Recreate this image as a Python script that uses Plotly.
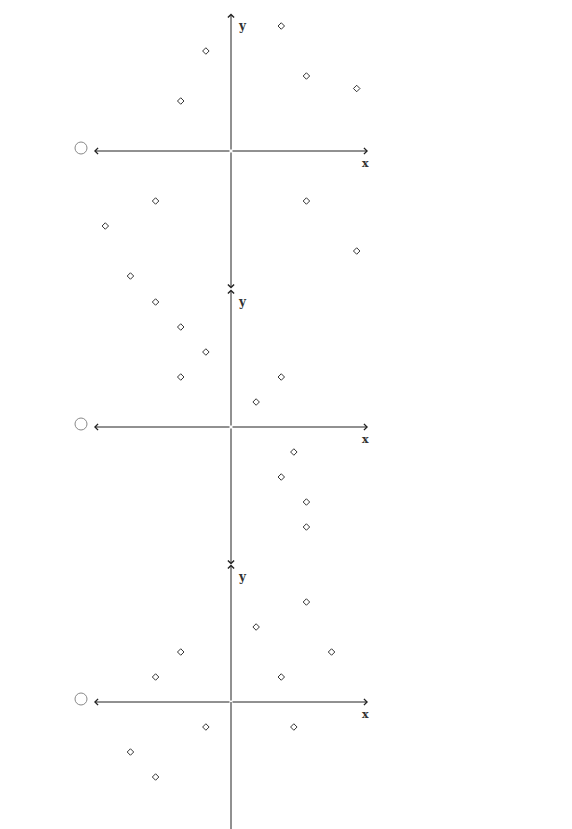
import plotly.graph_objects as go

W, H = 572, 829

# three answer choices, each a scatter of points
x1 = [2, -1, 3, 5, -2, -3, 3, -5, 5, -4]
y1 = [5, 4, 3, 2.5, 2, -2, -2, -3, -4, -5]
x2 = [-3, -2, -1, -2, 2, 1, 2.5, 2, 3, 3]
y2 = [5, 4, 3, 2, 2, 1, -1, -2, -3, -4]
x3 = [3, 1, -2, 4, -3, 2, -1, 2.5, -4, -3]
y3 = [4, 3, 2, 2, 1, 1, -1, -1, -2, -3]

sets = [(x1, y1), (x2, y2), (x3, y3)]
axis_rows = [143, 419, 694]  # pixel row of each x axis
unit = 25.0
half = 137.5
left, right = 86, 360

fig = go.Figure()
shapes, annos = [], []
for i, (xs, ys) in enumerate(sets):
    n = "" if i == 0 else str(i + 1)
    yc = axis_rows[i]
    top, bot = yc - half, min(yc + half, H)
    ytop, ybot = (yc - top) / unit, -(bot - yc) / unit
    fig.add_trace(go.Scatter(x=xs, y=ys, mode="markers", xaxis="x" + n, yaxis="y" + n,
                             marker=dict(symbol="diamond-open", size=5, color="black",
                                         line=dict(width=0.8)),
                             showlegend=False, hoverinfo="skip"))
    fig.update_layout({
        "xaxis" + n: dict(domain=[left / W, right / W], range=[-5.45, 5.45], visible=False,
                          anchor="y" + n),
        "yaxis" + n: dict(domain=[max(0, (H - bot) / H), min(1, (H - top) / H)],
                          range=[ybot, ytop], visible=False, anchor="x" + n),
    })
    xr, yr = "x" + n, "y" + n
    ends = [(5.45, 0), (-5.45, 0), (0, ytop)]
    if bot < H:
        ends.append((0, ybot))
    for (tx, ty) in ends:
        annos.append(dict(x=tx, y=ty, ax=0, ay=0, xref=xr, yref=yr, axref=xr, ayref=yr,
                          text="", showarrow=True, arrowhead=4, arrowsize=1.2,
                          arrowwidth=1, arrowcolor="#222"))
    if bot >= H:
        shapes.append(dict(type="line", xref=xr, yref=yr, x0=0, x1=0, y0=0, y1=ybot,
                           line=dict(color="#222", width=1)))
    annos.append(dict(x=5.35, y=-0.5, xref=xr, yref=yr, text="<b>x</b>", showarrow=False,
                      font=dict(family="DejaVu Serif", size=11, color="#333")))
    annos.append(dict(x=0.45, y=5.0, xref=xr, yref=yr, text="<b>y</b>", showarrow=False,
                      font=dict(family="DejaVu Serif", size=12, color="#333")))
    cy = yc - 3
    shapes.append(dict(type="circle", xref="paper", yref="paper",
                       x0=67 / W, x1=79 / W, y0=(H - cy - 6) / H, y1=(H - cy + 6) / H,
                       line=dict(color="#888", width=1), fillcolor="white"))

fig.update_layout(width=W, height=H, margin=dict(l=0, r=0, t=0, b=0),
                  plot_bgcolor="white", paper_bgcolor="white",
                  shapes=shapes, annotations=annos)
fig.write_html("out.html")
